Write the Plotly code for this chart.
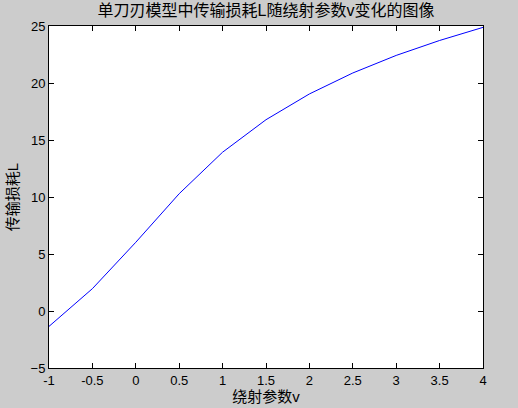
import plotly.graph_objects as go

v = [-1, -0.5, 0, 0.5, 1, 1.5, 2, 2.5, 3, 3.5, 4]
L = [-1.35, 1.96, 6.03, 10.29, 13.93, 16.78, 19.04, 20.88, 22.42, 23.73, 24.88]

xticks = [-1, -0.5, 0, 0.5, 1, 1.5, 2, 2.5, 3, 3.5, 4]
xticklabels = ["-1", "-0.5", "0", "0.5", "1", "1.5", "2", "2.5", "3", "3.5", "4"]
yticks = [-5, 0, 5, 10, 15, 20, 25]

title = "单刀刃模型中传输损耗L随绕射参数v变化的图像"
xlabel = "绕射参数v"
ylabel = "传输损耗L"

cjk = "Liberation Sans, Noto Sans CJK SC, sans-serif"

fig = go.Figure()
fig.add_trace(go.Scatter(x=v, y=L, mode="lines",
                         line=dict(color="#0000ff", width=1), showlegend=False))

axis_common = dict(showgrid=False, zeroline=False, showline=True, linecolor="black",
                   linewidth=1, mirror="ticks", ticks="inside", ticklen=5,
                   tickcolor="black", tickwidth=1, automargin=False,
                   tickfont=dict(family="Liberation Sans, Arial, sans-serif", size=13, color="black"))

fig.update_layout(
    width=518, height=408,
    paper_bgcolor="#cccccc", plot_bgcolor="white",
    margin=dict(l=49, r=35, t=26, b=40),
    title=dict(text=title, x=0.5, xanchor="center", xref="paper", y=1, yanchor="top", pad=dict(t=5),
               font=dict(family=cjk, size=16, color="black")),
    xaxis=dict(range=[-1, 4], tickvals=xticks, ticktext=xticklabels,
               title=dict(text=xlabel, font=dict(family=cjk, size=15, color="black"), standoff=2),
               **axis_common),
    yaxis=dict(range=[-5, 25], tickvals=yticks,
               title=dict(text=ylabel, font=dict(family=cjk, size=15, color="black"), standoff=8),
               **axis_common),
)

fig.write_html("out.html", config={"displayModeBar": False},
               post_script="document.body.style.margin='0';document.body.style.background='#cccccc';")
